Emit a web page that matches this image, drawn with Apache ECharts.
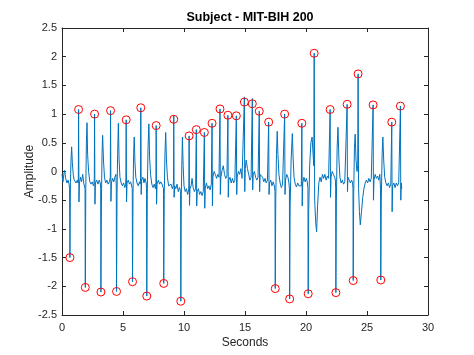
<!DOCTYPE html>
<html>
<head>
<meta charset="utf-8">
<script src="https://cdn.jsdelivr.net/npm/echarts@6/dist/echarts.min.js"></script>
<style>
html,body{margin:0;padding:0;background:#fff;}
#c{width:474px;height:355px;}
</style>
</head>
<body>
<div id="c"></div>
<script>
// ECG trace (seconds, amplitude)
const traceT = [
0.00,0.08,0.15,0.22,0.30,0.40,0.50,0.58,
0.62,0.65,0.69,0.74,0.79,0.85,0.92,1.00,1.08,1.16,1.25,1.32,
1.34,1.36,1.39,1.43,1.52,1.60,1.70,1.78,1.86,
1.89,1.91,1.95,2.00,2.05,2.10,2.18,2.28,2.38,2.48,2.58,2.63,
2.65,2.67,2.70,2.74,2.84,2.95,3.05,3.14,
3.17,3.19,3.23,3.28,3.33,3.40,3.48,3.58,3.68,3.78,3.88,3.95,
3.96,3.98,4.01,4.05,4.15,4.25,4.33,4.42,
4.45,4.47,4.51,4.56,4.62,4.68,4.75,4.85,4.95,5.05,5.15,5.22,
5.24,5.26,5.29,5.33,5.43,5.53,5.63,5.72,
5.76,5.78,5.82,5.87,5.92,5.98,6.05,6.15,6.25,6.35,6.42,
6.44,6.46,6.49,6.53,6.63,6.72,6.80,6.90,
6.93,6.95,6.99,7.05,7.12,7.18,7.26,7.36,7.46,7.56,7.66,7.70,
7.72,7.75,7.79,7.90,8.00,8.10,8.20,8.28,
8.32,8.34,8.38,8.44,8.50,8.56,8.64,8.74,8.84,8.94,9.04,9.12,
9.14,9.16,9.19,9.23,9.33,9.43,9.53,9.63,9.70,
9.72,9.74,9.78,9.83,9.87,9.93,10.00,10.10,10.20,10.30,10.38,
10.40,10.42,10.45,10.49,10.58,10.66,10.75,10.85,10.95,
10.98,11.01,11.04,11.08,11.18,11.28,11.38,11.48,11.58,11.64,
11.67,11.70,11.74,11.84,11.94,12.04,12.14,12.24,12.28,
12.30,12.33,12.37,12.47,12.57,12.67,12.77,12.87,12.92,
12.95,12.98,13.02,13.12,13.22,13.32,13.42,13.52,13.57,
13.60,13.63,13.67,13.77,13.87,13.97,14.07,14.17,14.25,
14.29,14.32,14.36,14.46,14.56,14.66,14.76,14.86,14.92,
14.95,14.98,15.02,15.10,15.20,15.30,15.40,15.50,15.57,
15.60,15.63,15.67,15.77,15.87,15.97,16.07,16.14,
16.17,16.20,16.24,16.34,16.44,16.54,16.64,16.74,16.84,16.91,
16.94,16.97,17.01,17.11,17.21,17.31,17.41,
17.46,17.48,17.52,17.58,17.64,17.70,17.78,17.88,17.98,18.08,18.18,18.22,
18.25,18.28,18.32,18.42,18.52,18.60,
18.64,18.66,18.70,18.78,18.88,18.95,19.02,19.12,19.22,19.32,19.42,19.52,19.62,
19.66,19.69,19.73,19.83,19.93,20.03,20.12,
20.16,20.18,20.22,20.30,20.40,20.50,20.58,20.64,
20.67,20.71,20.80,20.87,20.95,21.05,21.15,21.25,21.35,21.45,21.55,21.65,21.75,21.85,21.94,
21.98,22.01,22.05,22.15,22.25,22.35,22.41,
22.43,22.45,22.49,22.55,22.62,22.70,22.78,22.88,22.98,23.08,23.18,23.28,23.34,
23.37,23.40,23.44,23.54,23.64,23.74,23.82,
23.85,23.87,23.91,23.97,24.03,24.10,24.18,24.24,
24.27,24.31,24.38,24.45,24.55,24.65,24.75,24.85,24.95,25.05,25.15,25.25,25.35,25.45,
25.50,25.53,25.57,25.67,25.77,25.87,25.97,26.05,
26.11,26.13,26.17,26.24,26.30,26.37,26.45,26.55,26.65,26.75,26.85,26.95,27.00,
27.03,27.06,27.10,27.20,27.30,27.40,27.50,27.60,27.70,
27.74,27.77,27.81,27.85
];
const traceV = [
-0.05,-0.18,-0.05,0.02,-0.12,-0.20,-0.15,-0.22,
-0.30,-1.50,-0.20,0.20,0.43,0.15,-0.05,-0.15,-0.12,-0.20,-0.15,-0.20,
-0.10,1.08,-0.53,-0.20,-0.10,-0.18,-0.05,-0.20,-0.22,
-0.30,-2.02,-0.30,0.50,0.85,0.30,0.00,-0.18,-0.22,-0.18,-0.25,-0.20,
-0.10,1.00,-0.57,-0.20,-0.15,-0.22,-0.15,-0.20,
-0.30,-2.10,-0.60,0.30,0.63,0.20,-0.10,-0.20,-0.15,-0.22,-0.18,-0.20,
-0.10,1.06,-0.52,-0.20,-0.12,-0.18,-0.10,-0.05,
-0.30,-2.09,-0.40,0.30,0.84,0.20,-0.10,-0.20,-0.25,-0.20,-0.28,-0.22,
-0.10,0.90,-0.53,-0.20,-0.15,-0.22,-0.18,-0.20,
-0.30,-1.92,-0.40,0.30,0.60,0.15,-0.10,-0.20,-0.25,-0.18,-0.22,
-0.10,1.11,-0.40,-0.15,-0.10,-0.20,-0.12,-0.20,
-0.30,-2.17,-0.40,0.40,0.83,0.25,-0.05,-0.22,-0.28,-0.22,-0.30,-0.20,
0.80,-0.57,-0.22,-0.15,-0.22,-0.18,-0.22,-0.20,
-0.30,-1.95,-0.40,0.30,0.68,0.20,-0.10,-0.25,-0.28,-0.22,-0.30,-0.25,
-0.15,0.98,-0.45,-0.25,-0.30,-0.22,-0.35,-0.28,-0.30,
-0.35,-2.26,-0.40,0.20,0.60,0.10,-0.25,-0.35,-0.30,-0.40,-0.32,
-0.25,0.62,-0.59,-0.30,-0.25,-0.12,-0.28,-0.35,-0.30,
-0.30,0.73,-0.60,-0.35,-0.30,-0.40,-0.35,-0.42,-0.35,-0.38,
0.68,-0.64,-0.30,-0.20,-0.30,-0.25,-0.32,-0.22,-0.20,
0.84,-0.60,-0.10,0.00,-0.05,-0.12,-0.05,-0.10,-0.08,
1.09,-0.40,-0.10,0.02,0.10,-0.05,-0.12,-0.08,-0.10,
0.98,-0.45,-0.15,-0.10,-0.20,-0.12,-0.20,-0.15,-0.18,
0.97,-0.40,-0.10,0.00,-0.05,0.05,-0.12,-0.10,-0.12,
1.30,-0.35,0.05,0.20,0.05,-0.05,-0.15,-0.10,-0.12,
1.27,-0.32,-0.05,0.00,-0.10,-0.15,-0.10,-0.12,
1.05,-0.35,-0.05,-0.02,-0.10,-0.18,-0.12,-0.20,-0.15,-0.18,
0.86,-0.40,-0.20,-0.15,-0.25,-0.18,-0.25,
-0.35,-2.04,-0.50,0.30,0.70,0.30,-0.05,-0.20,-0.28,-0.22,-0.25,-0.20,
1.00,-0.40,-0.15,-0.05,-0.10,-0.20,
-0.30,-2.22,-0.60,0.20,0.66,0.20,-0.10,-0.22,-0.27,-0.20,-0.25,-0.22,-0.25,
0.84,-0.60,-0.20,-0.10,-0.18,-0.12,-0.20,
-0.30,-2.13,-0.70,0.10,0.50,0.60,0.30,0.10,
2.06,-0.50,-0.90,-1.05,-0.60,-0.20,-0.10,-0.18,-0.05,-0.12,-0.05,-0.15,-0.08,-0.12,-0.10,
1.08,-0.45,-0.10,0.00,-0.05,-0.10,-0.15,
-0.30,-2.11,-0.50,0.40,0.77,0.20,-0.10,-0.20,-0.15,-0.22,-0.18,-0.20,-0.15,
1.17,-0.35,-0.10,-0.15,-0.20,-0.15,-0.20,
-0.30,-1.90,-0.40,0.40,0.65,0.20,0.00,0.10,
1.70,-0.30,-0.70,-0.93,-0.70,-0.45,-0.30,-0.20,-0.15,-0.20,-0.12,-0.18,-0.12,-0.15,
1.16,-0.50,-0.15,-0.05,-0.12,-0.08,-0.15,-0.05,
-0.30,-1.89,-0.50,0.30,0.60,0.20,-0.10,-0.20,-0.25,-0.20,-0.28,-0.22,-0.25,
0.86,-0.70,-0.25,-0.20,-0.28,-0.20,-0.25,-0.20,-0.22,
1.14,-0.50,-0.20,-0.30
];
// detected R peaks (red circles, maxima)
const peakT = [1.36,2.67,3.98,5.26,6.46,7.72,9.16,10.42,11.01,11.67,12.30,12.95,13.60,14.29,14.95,15.60,16.17,16.94,18.25,19.66,20.67,21.98,23.37,24.27,25.50,27.03,27.74];
const peakV = [1.08,1.00,1.06,0.90,1.11,0.80,0.91,0.62,0.73,0.68,0.84,1.09,0.98,0.97,1.21,1.18,1.05,0.86,1.00,0.84,2.06,1.08,1.17,1.70,1.16,0.86,1.14];
// detected minima (red circles)
const troughT = [0.65,1.91,3.19,4.47,5.78,6.95,8.34,9.74,17.48,18.66,20.18,22.45,23.87,26.13];
const troughV = [-1.50,-2.02,-2.10,-2.09,-1.92,-2.17,-1.95,-2.26,-2.04,-2.22,-2.13,-2.11,-1.90,-1.89];

const xTicks = [0,5,10,15,20,25,30];
const yTicks = [-2.5,-2,-1.5,-1,-0.5,0,0.5,1,1.5,2,2.5];

function pairs(a,b){ const o=[]; for(let i=0;i<a.length&&i<b.length;i++) o.push([a[i],b[i]]); return o; }

const axisCol = '#262626';
const fontFam = '"Liberation Sans", Arial, Helvetica, sans-serif';
const chart = echarts.init(document.getElementById('c'), null, {renderer:'canvas'});
const baseAxis = {
  axisLine:{show:true,onZero:false,lineStyle:{color:axisCol,width:1}},
  axisTick:{show:true,inside:true,length:4,lineStyle:{color:axisCol}},
  splitLine:{show:false}
};
const circleStyle = {color:'rgba(0,0,0,0)',borderColor:'#FF0000',borderWidth:1,opacity:1};
chart.setOption({
  animation:false,
  backgroundColor:'#fff',
  title:{text:'Subject - MIT-BIH 200',left:245,top:6,textAlign:'center',
    textStyle:{fontFamily:fontFam,fontSize:12.5,fontWeight:'bold',color:'#000'}},
  grid:{left:62,right:46,top:28,bottom:40,containLabel:false},
  xAxis:[
    Object.assign({},baseAxis,{type:'value',position:'bottom',min:xTicks[0],max:xTicks[xTicks.length-1],interval:5,
      name:'Seconds',nameLocation:'middle',nameGap:22,nameMoveOverlap:false,
      nameTextStyle:{fontFamily:fontFam,fontSize:12,color:axisCol},
      axisLabel:{fontFamily:fontFam,fontSize:11,color:axisCol,margin:7}}),
    Object.assign({},baseAxis,{type:'value',position:'top',min:0,max:30,interval:5,axisLabel:{show:false}})
  ],
  yAxis:[
    Object.assign({},baseAxis,{type:'value',position:'left',min:yTicks[0],max:yTicks[yTicks.length-1],interval:0.5,
      name:'Amplitude',nameLocation:'middle',nameGap:26,nameRotate:90,nameMoveOverlap:false,
      nameTextStyle:{fontFamily:fontFam,fontSize:12,color:axisCol},
      axisLabel:{fontFamily:fontFam,fontSize:11,color:axisCol,margin:5}}),
    Object.assign({},baseAxis,{type:'value',position:'right',min:-2.5,max:2.5,interval:0.5,axisLabel:{show:false}})
  ],
  series:[
    {type:'line',data:pairs(traceT,traceV),showSymbol:false,symbol:'none',
      lineStyle:{color:'#0072BD',width:1},xAxisIndex:0,yAxisIndex:0,z:2},
    {type:'scatter',data:pairs(peakT,peakV),symbol:'circle',symbolSize:8,
      itemStyle:circleStyle,xAxisIndex:0,yAxisIndex:0,z:3},
    {type:'scatter',data:pairs(troughT,troughV),symbol:'circle',symbolSize:8,
      itemStyle:circleStyle,xAxisIndex:0,yAxisIndex:0,z:3}
  ]
});
</script>
</body>
</html>
